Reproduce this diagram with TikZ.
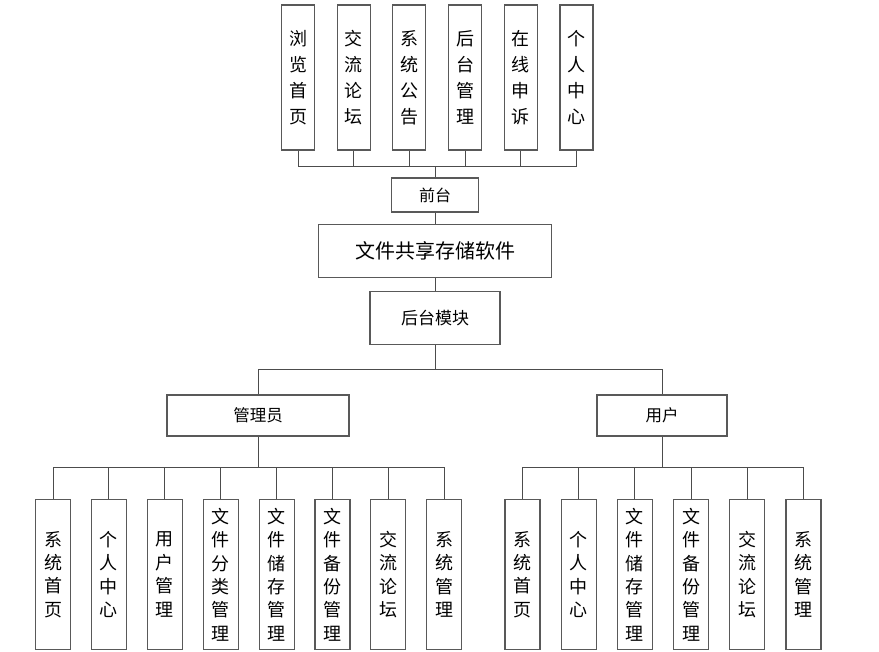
\documentclass[tikz,border=0pt]{standalone}
\usepackage{fontspec}
\setmainfont{Noto Sans CJK SC}
\usetikzlibrary{positioning}

\begin{document}
\begin{tikzpicture}[x=1pt, y=-1pt,
    box/.style={draw=black!65, line width=1.1pt, fill=white, inner sep=0pt, align=center},
    vbox/.style={box, minimum width=33pt, font=\fontsize{18}{23.4}\selectfont},
    link/.style={draw=black!70, line width=1pt}]
          \useasboundingbox (0,0) rectangle (879,652);

          % front modules
          \foreach \t [count=\i from 1] in {浏\\览\\首\\页, 交\\流\\论\\坛, 系\\统\\公\\告, 后\\台\\管\\理, 在\\线\\申\\诉, 个\\人\\中\\心}{%
            \node[vbox, minimum height=145pt, font=\fontsize{18}{26}\selectfont] (t\i) at (298+55.7*\i-55.7, 77.5) {\t};
          }
          \node[box, minimum width=87pt, minimum height=34pt, font=\fontsize{16}{16}\selectfont] (qt) at (435, 195) {前台};
          \node[box, minimum width=233pt, minimum height=53pt, font=\fontsize{20}{20}\selectfont] (rj) at (435, 251) {文件共享存储软件};
          \node[box, minimum width=130pt, minimum height=53pt, font=\fontsize{17}{17}\selectfont] (ht) at (435, 318) {后台模块};
          \node[box, minimum width=182pt, minimum height=41pt, font=\fontsize{16.5}{16.5}\selectfont] (gly) at (258, 415.5) {管理员};
          \node[box, minimum width=130pt, minimum height=41pt, font=\fontsize{16.5}{16.5}\selectfont] (yh) at (662, 415.5) {用户};

          % back modules
          \foreach \t [count=\i from 1] in {系\\统\\首\\页, 个\\人\\中\\心, 用\\户\\管\\理, 文\\件\\分\\类\\管\\理, 文\\件\\储\\存\\管\\理, 文\\件\\备\\份\\管\\理, 交\\流\\论\\坛, 系\\统\\管\\理}{%
            \node[vbox, minimum width=35pt, minimum height=150pt] (a\i) at (53+55.9*\i-55.9, 574.5) {\t};
          }
          \foreach \t [count=\i from 1] in {系\\统\\首\\页, 个\\人\\中\\心, 文\\件\\储\\存\\管\\理, 文\\件\\备\\份\\管\\理, 交\\流\\论\\坛, 系\\统\\管\\理}{%
            \node[vbox, minimum width=35pt, minimum height=150pt] (u\i) at (522.5+56.2*\i-56.2, 574.5) {\t};
          }

          \coordinate (bus1) at (435, 167);
          \coordinate (bus2) at (435, 370);
          \coordinate (bus3) at (258, 468);
          \coordinate (bus4) at (662, 468);

          \foreach \i in {1,...,6} \draw[link] (t\i.south) |- (bus1);
          \draw[link] (bus1) -- (qt.north);
          \draw[link] (qt.south) -- (rj.north);
          \draw[link] (rj.south) -- (ht.north);
          \draw[link] (ht.south) -- (bus2);
          \draw[link] (gly.north) |- (bus2);
          \draw[link] (yh.north) |- (bus2);
          \draw[link] (gly.south) -- (bus3);
          \draw[link] (yh.south) -- (bus4);
          \foreach \i in {1,...,8} \draw[link] (a\i.north) |- (bus3);
          \foreach \i in {1,...,6} \draw[link] (u\i.north) |- (bus4);
        \end{tikzpicture}
\end{document}
